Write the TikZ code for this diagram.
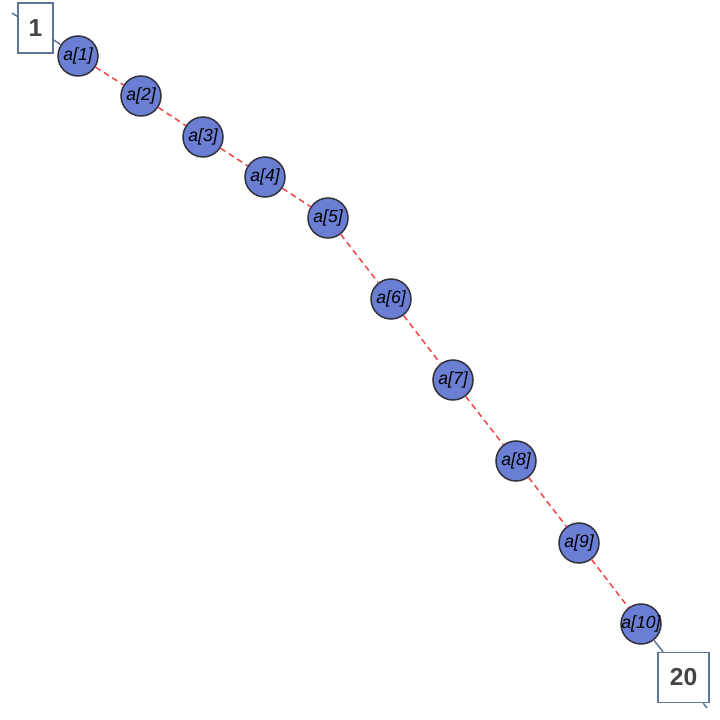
\documentclass[tikz,border=0pt]{standalone}
\usepackage{fontspec}
\setmainfont{Liberation Sans}
\usepackage{tikz}
\definecolor{ballfill}{RGB}{106,127,212}
\definecolor{ballline}{RGB}{50,50,60}
\definecolor{chainred}{RGB}{245,70,70}
\definecolor{endline}{RGB}{95,118,152}
\definecolor{endtext}{RGB}{68,68,68}
\tikzset{
  ball/.style={circle, draw=ballline, fill=ballfill, line width=1.3pt,
    minimum size=1.2cm, inner sep=0pt, font=\fontsize{15}{17}\selectfont\itshape},
  endbox/.style={rectangle, draw=endline, fill=white, line width=1.3pt,
    minimum height=1.5cm, inner sep=0pt, text=endtext,
    font=\fontsize{21}{24}\selectfont\bfseries},
  chain/.style={draw=chainred, line width=1.3pt, dash pattern=on 5pt off 3.5pt},
  tail/.style={draw=endline, line width=1.3pt}
}
\begin{document}
\begin{tikzpicture}[x=0.03cm,y=-0.03cm]
  \useasboundingbox (0,0) rectangle (720,720);
  \foreach \i/\x/\y in {1/78/56, 2/141/96, 3/203/137, 4/265/177, 5/328/218,
                        6/391/299, 7/453/380, 8/516/461, 9/579/543, 10/641/624}
  {
    \node[ball] (n\i) at (\x,\y) {\makebox[0pt]{a[\i]}};
  }
  \foreach \i [count=\j from 2] in {1,...,9}
  {
    \draw[chain] (n\i) -- (n\j);
  }
  \node[endbox, minimum width=1.05cm] (b1) at (35.5,28) {1};
  \node[endbox, minimum width=1.53cm] (b20) at (683.5,677.5) {20};
  \coordinate (e1) at (12,13);
  \coordinate (e20) at (707,708);
  \draw[tail] (n1) -- (b1) -- (e1);
  \draw[tail] (n10) -- (b20) -- (e20);
\end{tikzpicture}
\end{document}
